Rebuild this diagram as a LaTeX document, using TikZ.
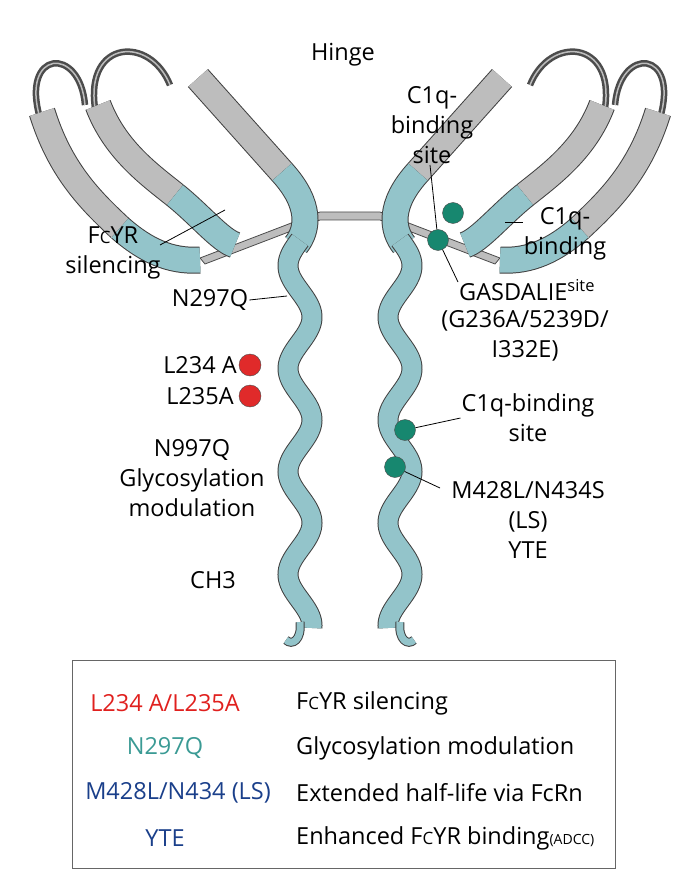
\documentclass[tikz,border=0pt]{standalone}
\usepackage{fontspec}
\setmainfont{Open Sans}
\definecolor{strandgray}{HTML}{BDBDBD}
\definecolor{ribteal}{HTML}{93C4CA}
\definecolor{dotteal}{HTML}{17876F}
\definecolor{dotred}{HTML}{E02A2A}
\definecolor{labred}{HTML}{E0201E}
\definecolor{labteal}{HTML}{3A9A94}
\definecolor{labnavy}{HTML}{1A3F8A}
\newcommand{\fcyr}{F{\fontsize{17}{20}\selectfont C}YR}
\begin{document}
\begin{tikzpicture}[x=1pt,y=-1pt,
  lab/.style={font=\fontsize{23.5}{30}\selectfont, align=center, inner sep=1pt},
  gstrand/.style={draw=black!75, line width=1pt, double=strandgray, double distance=25pt, line cap=butt},
  tstrand/.style={draw=black!75, line width=1pt, double=ribteal, double distance=25pt, line cap=butt},
  helix/.style={draw=black!75, line width=1pt, double=ribteal, double distance=19pt},
  loop/.style={draw=black!70, line width=2.5pt, double=strandgray, double distance=1.5pt},
  lead/.style={draw=black, line width=0.8pt},
  dotg/.style={circle, draw=black!70, fill=dotteal, minimum size=21pt, inner sep=0pt},
  dotr/.style={circle, draw=black!70, fill=dotred, minimum size=22pt, inner sep=0pt}]
\useasboundingbox (0,0) rectangle (685,885);

% hinge
\draw[draw=black!70, fill=strandgray, line width=0.8pt] (200,258) -- (320,212) -- (380,212) -- (500,258) -- (495,264) -- (380,220) -- (320,220) -- (205,264) -- cycle;

% left Fab
\draw[loop] (40,118) .. controls (20,50) and (80,45) .. (85,105);
\draw[loop] (95,108) .. controls (85,40) and (150,35) .. (170,85);
\draw[gstrand] (42,112) .. controls (60,170) and (90,200) .. (120,228);
\draw[tstrand] (120,228) .. controls (145,250) and (170,262) .. (200,260);
\draw[gstrand] (98,105) .. controls (115,150) and (150,175) .. (175,195);
\draw[tstrand] (175,195) .. controls (200,215) and (220,240) .. (235,245);
\draw[gstrand] (198,78) -- (282,172);
\draw[tstrand] (282,172) .. controls (312,205) and (308,230) .. (296,245);

% right Fab
\draw[loop] (660,118) .. controls (680,50) and (620,45) .. (615,105);
\draw[loop] (605,108) .. controls (615,40) and (550,35) .. (530,85);
\draw[gstrand] (658,112) .. controls (640,170) and (610,200) .. (580,228);
\draw[tstrand] (580,228) .. controls (555,250) and (530,262) .. (500,260);
\draw[gstrand] (602,105) .. controls (585,150) and (550,175) .. (525,195);
\draw[tstrand] (525,195) .. controls (500,215) and (480,240) .. (465,245);
\draw[gstrand] (502,78) -- (418,172);
\draw[tstrand] (418,172) .. controls (388,205) and (392,230) .. (404,245);

% helices
\draw[helix] plot[domain=240:628, samples=160] ({300-12*sin((\x-240)*3.5)}, \x);
\draw[helix] plot[domain=240:628, samples=160] ({400+12*sin((\x-240)*3.5)}, \x);
\draw[draw=black!75, line width=1pt, double=ribteal, double distance=7pt] (300,622) .. controls (302,640) and (292,646) .. (286,640);
\draw[draw=black!75, line width=1pt, double=ribteal, double distance=7pt] (400,622) .. controls (398,640) and (408,646) .. (414,640);

% dots
\node[dotg] (g1) at (453,213) {};
\node[dotg] (g2) at (438,240) {};
\node[dotg] (g3) at (405,430) {};
\node[dotg] (g4) at (395,467) {};
\node[dotr] (r1) at (250,365) {};
\node[dotr] (r2) at (250,396) {};

% labels
\node[lab] (hinge) at (343,55) {Hinge};
\node[lab] (c1a) at (432,125) {C1q-\\binding\\site};
\node[lab] (c1b) at (565,234) {C1q-\\binding};
\node[lab, anchor=west] (gas) at (458,290) {GASDALIE\textsuperscript{site}};
\node[lab] (gas2) at (525,336) {(G236A/5239D/\\I332E)};
\node[lab] (fcs) at (113,253) {\fcyr\\silencing};
\node[lab] (n297) at (210,300) {N297Q};
\node[lab] (l234) at (200,365) {L234 A};
\node[lab] (l235) at (200,396) {L235A};
\node[lab] (n997) at (192,478) {N997Q\\Glycosylation\\modulation};
\node[lab] (ch3) at (213,580) {CH3};
\node[lab] (c1c) at (528,418) {C1q-binding\\site};
\node[lab] (mls) at (528,520) {M428L/N434S\\(LS)\\YTE};

% leaders
\coordinate (fct) at (225,210);
\coordinate (nt) at (287,296);
\coordinate (c1bt) at (505,222);
\coordinate (c1top) at (430,165);
\coordinate (gast) at (458,282);
\coordinate (mlst) at (440,488);
\draw[lead] (160,245) -- (fct);
\draw[lead] (n297.east) -- (nt);
\draw[lead] (c1top) -- (g2);
\draw[lead] (gast) -- (g2);
\draw[lead] (c1b.west) ++(0,-12) -- (c1bt);
\draw[lead] (c1c.west) -- (g3);
\draw[lead] (mlst) -- (g4);

% legend
\draw[draw=black!60, line width=1pt] (72,660) rectangle (615,868);
\node[lab, text=labred] (k1) at (165,703) {L234 A/L235A};
\node[lab, text=labteal] (k2) at (165,748) {N297Q};
\node[lab, text=labnavy] (k3) at (178,793) {M428L/N434 (LS)};
\node[lab, text=labnavy] (k4) at (165,838) {YTE};
\node[lab, anchor=west] (v1) at (295,703) {\fcyr{} silencing};
\node[lab, anchor=west] (v2) at (295,748) {Glycosylation modulation};
\node[lab, anchor=west] (v3) at (295,793) {Extended half-life via FcRn};
\node[lab, anchor=west] (v4) at (295,838) {Enhanced \fcyr{} binding{\fontsize{14}{16}\selectfont (ADCC)}};
\end{tikzpicture}
\end{document}
